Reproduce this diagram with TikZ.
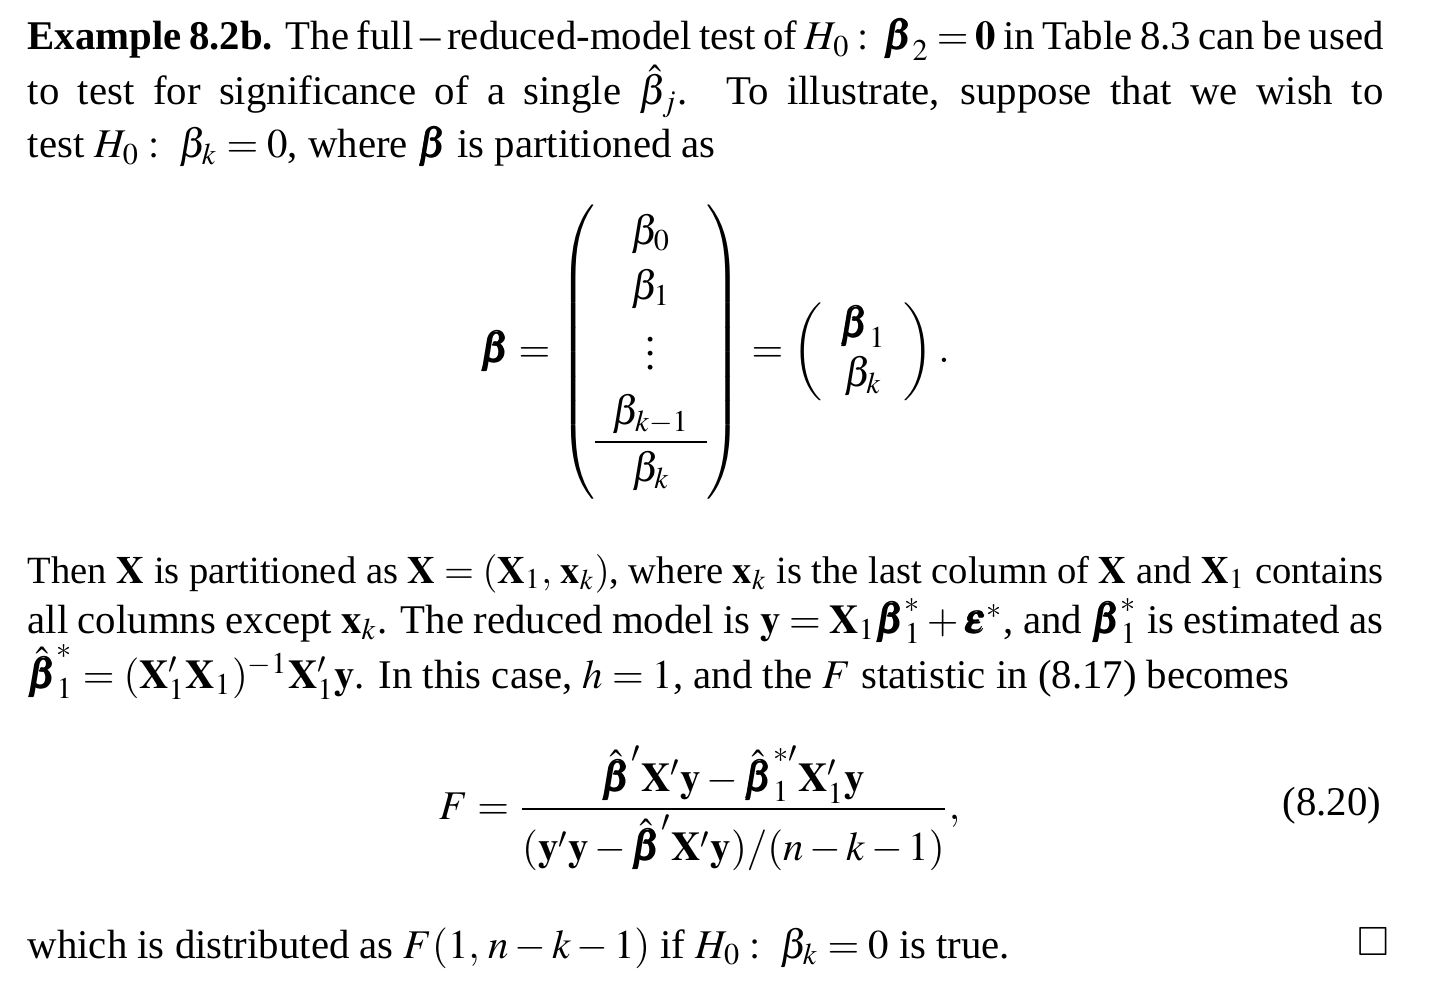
\documentclass[tikz,border=0pt]{standalone}
\usepackage{amsmath,amssymb}
\usepackage{mathptmx}
\usepackage{bm}
\usepackage{graphicx}
\usepackage{fontspec}
\setmainfont{Liberation Serif}
\newcommand{\Ln}[1]{\makebox[13.55cm][s]{#1}}
\newcommand{\bb}{\bm{\beta}}
\newcommand{\bX}{\mathbf{X}}
\newcommand{\by}{\mathbf{y}}
\newcommand{\bx}{\mathbf{x}}
\begin{document}
\begin{tikzpicture}[x=0.01cm,y=-0.01cm,
  txt/.style={anchor=base west,inner sep=0pt,font=\fontsize{11.6}{14}\selectfont}]
\useasboundingbox (0,0) rectangle (1446,982);
\node[txt] (l1) at (27,50) {\Ln{\textbf{Example 8.2b.} The full\,--\,reduced-model test of $H_0:\ \bb_2=\mathbf{0}$ in Table 8.3 can be used}};
\node[txt] (l2) at (27,105) {\Ln{to test for significance of a single $\hat\beta_j$. To illustrate, suppose that we wish to}};
\node[txt] (l3) at (27,158) {test $H_0:\ \beta_k=0$, where $\bb$ is partitioned as};
\node[inner sep=0pt,font=\fontsize{11.6}{14}\selectfont] (m) at (715,352) {$\displaystyle \bb=\left(\renewcommand\arraystretch{1.12}\begin{array}{c}\beta_0\\ \beta_1\\ \vdots\\ \beta_{k-1}\\ \hline \beta_k\end{array}\right)=\left(\begin{array}{c}\bb_1\\ \beta_k\end{array}\right).$};
\node[txt] (p1) at (27,583) {\resizebox{13.55cm}{!}{Then $\bX$ is partitioned as $\bX=(\bX_1,\,\bx_k)$, where $\bx_k$ is the last column of $\bX$ and $\bX_1$ contains}};
\node[txt] (p2) at (27,633) {\Ln{all columns except $\bx_k$. The reduced model is $\by=\bX_1\bb_1^*+\bm{\varepsilon}^*$, and $\bb_1^*$ is estimated as}};
\node[txt] (p3) at (27,688) {$\hat{\bb}_1^*=(\bX_1'\bX_1)^{-1}\bX_1'\by$. In this case, $h=1$, and the $F$ statistic in (8.17) becomes};
\node[inner sep=0pt,font=\fontsize{11.6}{14}\selectfont] (eq) at (700,808) {$\displaystyle F=\frac{\hat{\bb}'\bX'\by-\hat{\bb}_1^{*\prime}\bX_1'\by}{(\by'\by-\hat{\bb}'\bX'\by)/(n-k-1)},$};
\node[anchor=east,inner sep=0pt,font=\fontsize{11.6}{14}\selectfont] (num) at (1382,806) {(8.20)};
\node[txt] (last) at (27,958) {which is distributed as $F(1,\,n-k-1)$ if $H_0:\ \beta_k=0$ is true.};
\node[txt] (qed) at (1357,955) {$\square$};
\end{tikzpicture}
\end{document}
